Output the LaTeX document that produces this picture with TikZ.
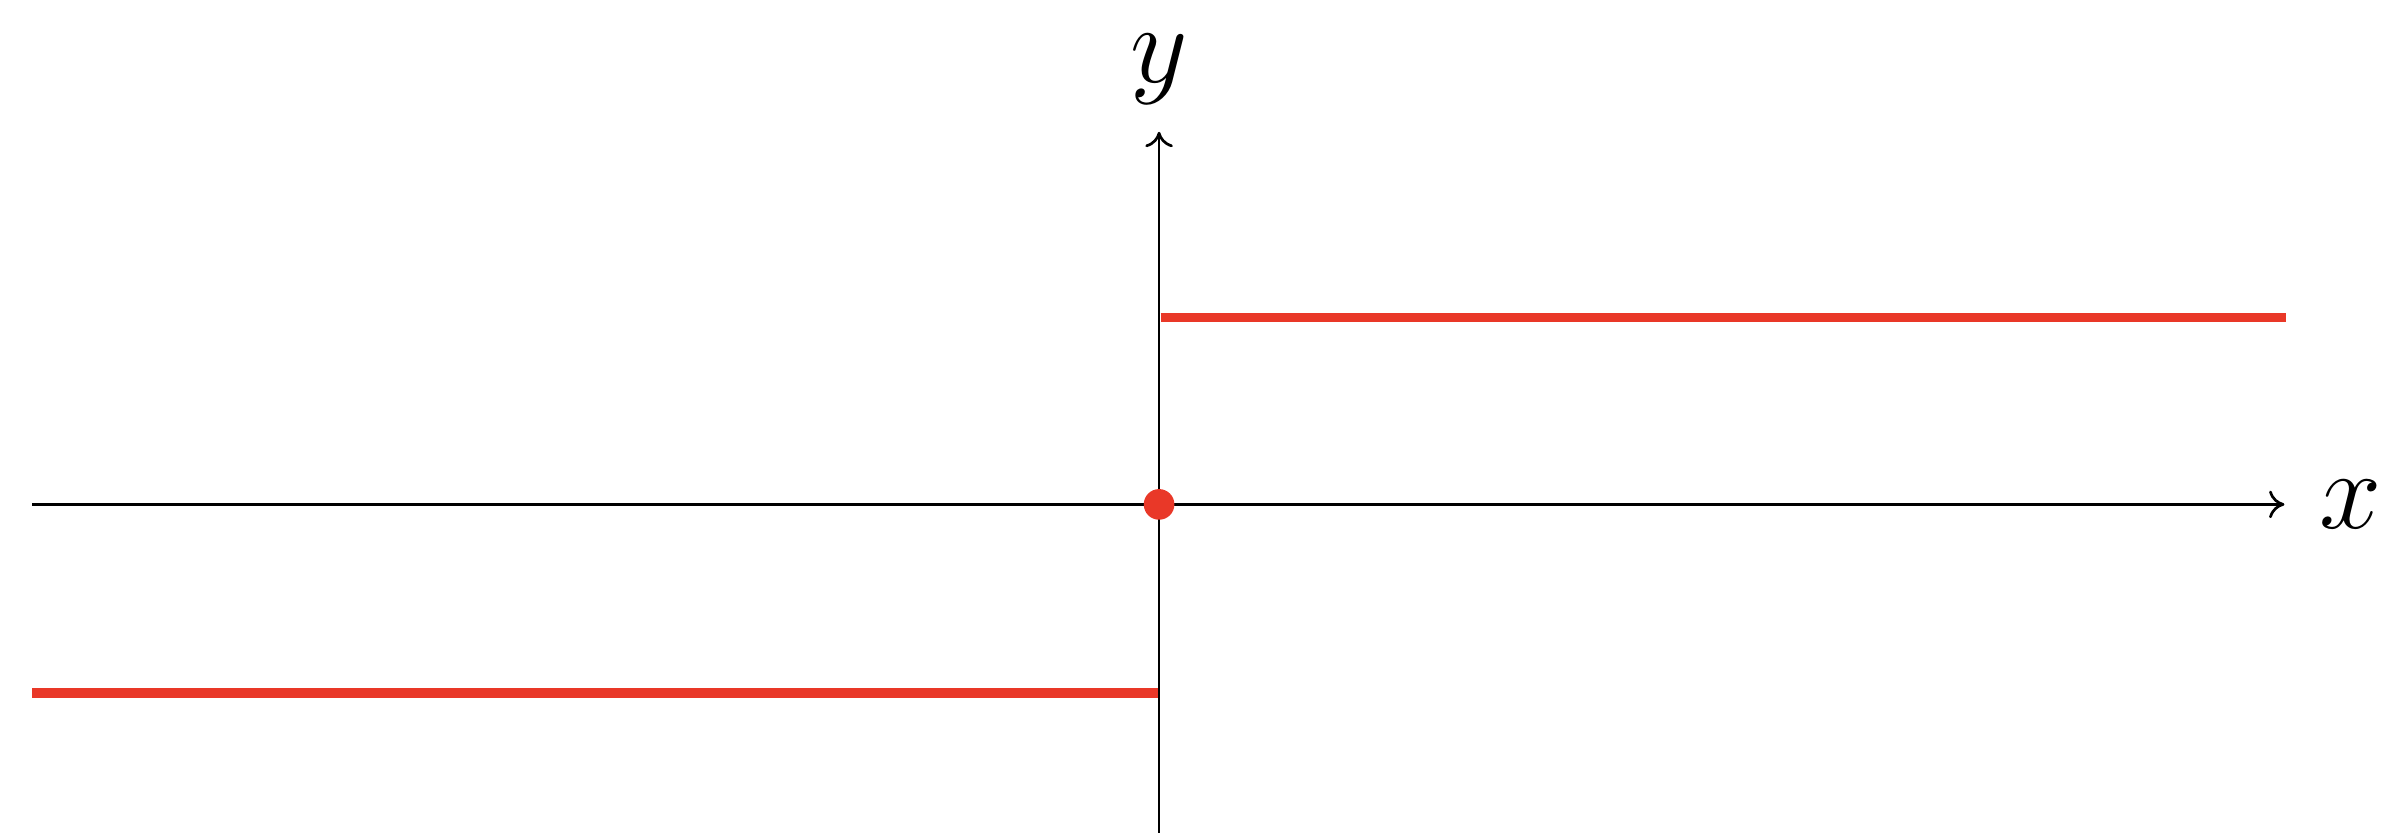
\documentclass[tikz,border=0pt]{standalone}
\usepackage{amsmath}
\usetikzlibrary{arrows.meta}
\definecolor{stepred}{RGB}{233,56,40}
\tikzset{
  axis/.style={line width=0.5pt, -{To[length=1mm,width=1.8mm]}},
  piece/.style={stepred, line width=1.7pt},
  lab/.style={font=\huge}
}
\begin{document}
\begin{tikzpicture}
  \useasboundingbox (-7.56,-2.14) rectangle (8.12,3.29);
  % axes
  \coordinate (xl) at (-7.35,0);
  \coordinate (xr) at (7.34,0);
  \coordinate (yb) at (0,-2.2);
  \coordinate (yt) at (0,2.43);
  \draw[axis] (xl) -- (xr);
  \draw[axis] (yb) -- (yt);
  \node[lab] (xlab) at (7.77,0) {$x$};
  \node[lab] (ylab) at (0,2.84) {$y$};
  % sign function
  \coordinate (u0) at (0.01,1.22);
  \coordinate (u1) at (7.35,1.22);
  \coordinate (l0) at (-7.35,-1.23);
  \coordinate (l1) at (-0.01,-1.23);
  \draw[piece] (u0) -- (u1);
  \draw[piece] (l0) -- (l1);
  \fill[stepred] (0,0) circle (0.1);
\end{tikzpicture}
\end{document}
